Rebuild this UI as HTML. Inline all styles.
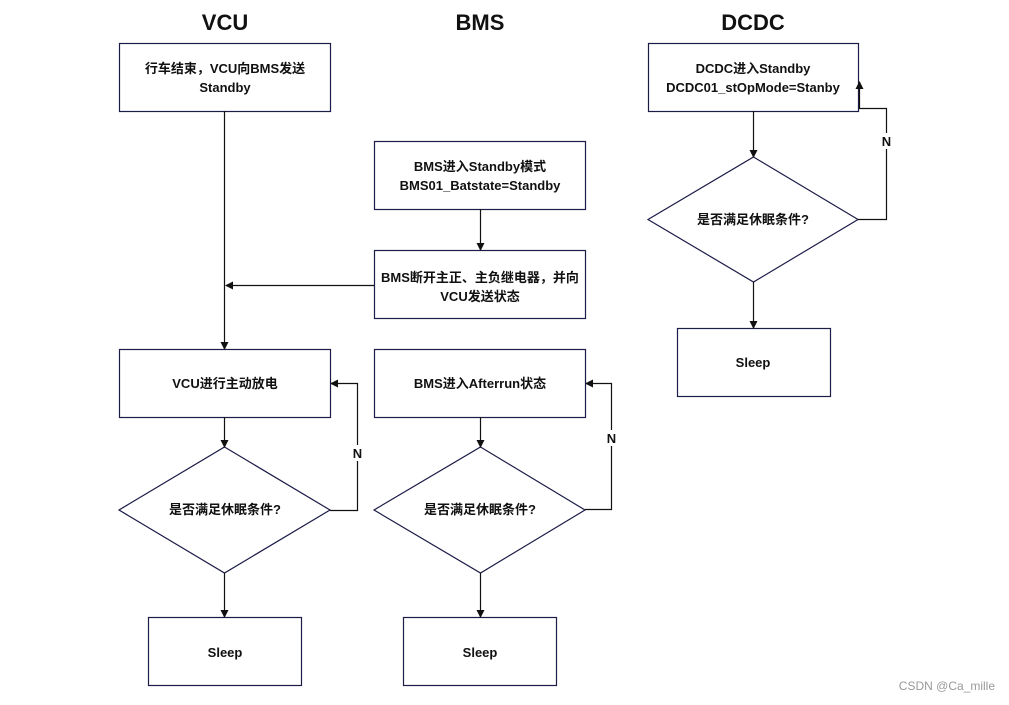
<!DOCTYPE html>
<html><head><meta charset="utf-8"><style>
html,body{margin:0;padding:0;background:#fff;}
svg text{font-family:"Liberation Sans","Noto Sans CJK SC",sans-serif;font-weight:bold;fill:#111;}
</style></head><body>
<svg width="1009" height="700" viewBox="0 0 1009 700" xmlns="http://www.w3.org/2000/svg">
<defs><marker id="a" markerWidth="8" markerHeight="8" refX="7" refY="4" orient="auto" markerUnits="userSpaceOnUse"><path d="M0,0 L8,4 L0,8 z" fill="#111"/></marker></defs>
<g font-size="22" text-anchor="middle">
<text x="225" y="30">VCU</text><text x="480" y="30">BMS</text><text x="753" y="30">DCDC</text>
</g>
<g fill="none" stroke="#1c1c48" stroke-width="1.2">
<rect x="119.5" y="43.5" width="211" height="68"/>
<rect x="374.5" y="141.5" width="211" height="68"/>
<rect x="374.5" y="250.5" width="211" height="68"/>
<rect x="119.5" y="349.5" width="211" height="68"/>
<rect x="374.5" y="349.5" width="211" height="68"/>
<rect x="148.5" y="617.5" width="153" height="68"/>
<rect x="403.5" y="617.5" width="153" height="68"/>
<rect x="648.5" y="43.5" width="210" height="68"/>
<rect x="677.5" y="328.5" width="153" height="68"/>
<path d="M224.5,447 L330,510 L224.5,573 L119,510 Z"/>
<path d="M480.5,447 L585,510 L480.5,573 L374,510 Z"/>
<path d="M753.5,157 L858,219.5 L753.5,282 L648,219.5 Z"/>
</g>
<g fill="none" stroke="#111" stroke-width="1.2" marker-end="url(#a)">
<path d="M224.5,111 V349"/>
<path d="M374,285.5 H226"/>
<path d="M480.5,209 V250"/>
<path d="M224.5,417 V447"/>
<path d="M480.5,417 V447"/>
<path d="M224.5,573 V617"/>
<path d="M480.5,573 V617"/>
<path d="M330,510.5 H357.5 V383.5 H331"/>
<path d="M585,509.5 H611.5 V383.5 H586"/>
<path d="M753.5,111 V157"/>
<path d="M753.5,282 V328"/>
<path d="M858,219.5 H886.5 V108.5 H859.5 V82"/>
</g>
<g fill="#fff"><rect x="350" y="445" width="15" height="16"/><rect x="604" y="430" width="15" height="16"/><rect x="879" y="133" width="15" height="16"/></g>
<g font-size="13" text-anchor="middle">
<text x="357.5" y="458">N</text><text x="611.5" y="443">N</text><text x="886.5" y="146">N</text>
<text x="225" y="73">行车结束，VCU向BMS发送</text><text x="225" y="92">Standby</text>
<text x="480" y="171">BMS进入Standby模式</text><text x="480" y="190">BMS01_Batstate=Standby</text>
<text x="480" y="282">BMS断开主正、主负继电器，并向</text><text x="480" y="301">VCU发送状态</text>
<text x="225" y="388">VCU进行主动放电</text>
<text x="480" y="388">BMS进入Afterrun状态</text>
<text x="225" y="514">是否满足休眠条件?</text>
<text x="480" y="514">是否满足休眠条件?</text>
<text x="753" y="224">是否满足休眠条件?</text>
<text x="225" y="657">Sleep</text><text x="480" y="657">Sleep</text><text x="753" y="367">Sleep</text>
<text x="753" y="73">DCDC进入Standby</text><text x="753" y="92">DCDC01_stOpMode=Stanby</text>
</g>
<text x="995" y="690" font-size="12" text-anchor="end" style="font-weight:normal;fill:#999">CSDN @Ca_mille</text>
</svg>
</body></html>
